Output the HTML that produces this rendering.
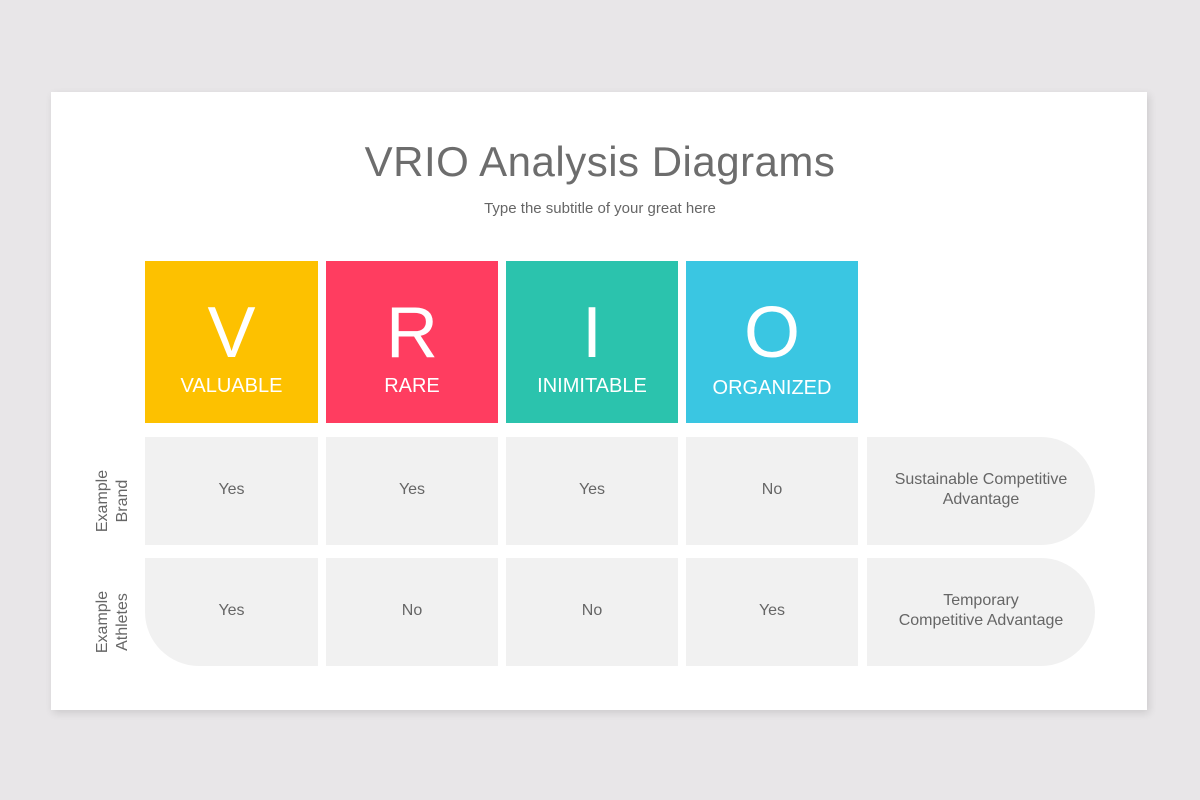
<!DOCTYPE html>
<html><head><style>
*{margin:0;padding:0;box-sizing:border-box}
body{width:1200px;height:800px;background:#e8e6e8;font-family:"Liberation Sans",sans-serif;position:relative;overflow:hidden}
.slide{position:absolute;left:51px;top:92px;width:1096px;height:618px;background:#fff;box-shadow:2px 3px 8px rgba(0,0,0,0.12)}
.a{position:absolute}
.h{position:absolute;top:261px;height:162px;width:173px;color:#fff;text-align:center}
.h .L{position:absolute;left:0;right:0;top:30px;font-size:72px;line-height:84px}
.h .t{position:absolute;left:0;right:0;top:112px;font-size:20px;line-height:26px}
.c{position:absolute;background:#f1f1f1;color:#666;font-size:16px;display:flex;align-items:center;justify-content:center;text-align:center;line-height:20px;padding-bottom:3px}
.v{position:absolute;color:#666;font-size:16px;line-height:20px;text-align:center;transform:rotate(-90deg);width:108px}
</style></head><body>
<div class="slide"></div>
<div class="a" style="left:0;width:1200px;top:137px;text-align:center;font-size:42px;color:#6d6d6d;line-height:50px;letter-spacing:0.5px">VRIO Analysis Diagrams</div>
<div class="a" style="left:0;width:1200px;top:199px;text-align:center;font-size:15px;color:#666;line-height:20px">Type the subtitle of your great here</div>
<div class="h" style="left:145px;background:#fdc100"><div class="L">V</div><div class="t">VALUABLE</div></div>
<div class="h" style="left:326px;width:172px;background:#ff3d60"><div class="L">R</div><div class="t">RARE</div></div>
<div class="h" style="left:506px;width:172px;background:#2bc3ad"><div class="L">I</div><div class="t">INIMITABLE</div></div>
<div class="h" style="left:686px;width:172px;background:#3ac6e2"><div class="L">O</div><div class="t" style="top:114px">ORGANIZED</div></div>

<div class="v" style="left:59px;top:481px">Example<br>Brand</div>
<div class="v" style="left:59px;top:602px">Example<br>Athletes</div>

<div class="c" style="left:145px;top:437px;width:173px;height:108px">Yes</div>
<div class="c" style="left:326px;top:437px;width:172px;height:108px">Yes</div>
<div class="c" style="left:506px;top:437px;width:172px;height:108px">Yes</div>
<div class="c" style="left:686px;top:437px;width:172px;height:108px">No</div>
<div class="c" style="left:867px;top:437px;width:228px;height:108px;border-radius:0 54px 54px 0">Sustainable Competitive<br>Advantage</div>

<div class="c" style="left:145px;top:558px;width:173px;height:108px;border-radius:0 0 0 54px">Yes</div>
<div class="c" style="left:326px;top:558px;width:172px;height:108px">No</div>
<div class="c" style="left:506px;top:558px;width:172px;height:108px">No</div>
<div class="c" style="left:686px;top:558px;width:172px;height:108px">Yes</div>
<div class="c" style="left:867px;top:558px;width:228px;height:108px;border-radius:0 54px 54px 0">Temporary<br>Competitive Advantage</div>
</body></html>
